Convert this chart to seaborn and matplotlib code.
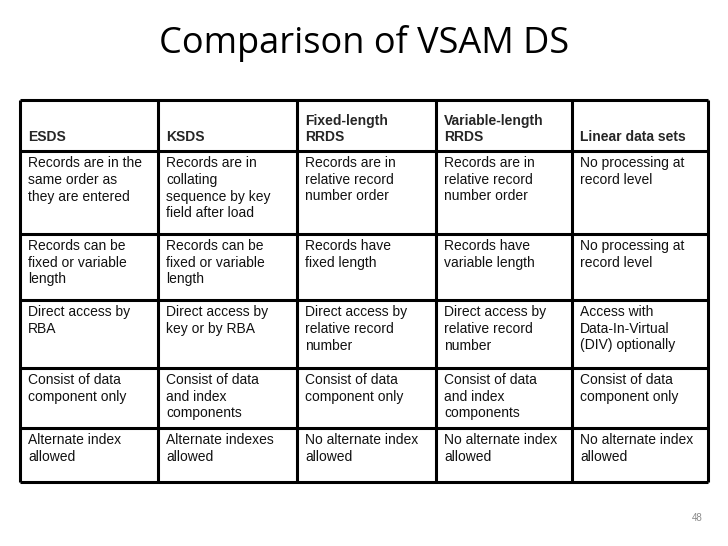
import matplotlib
matplotlib.use("Agg")
import matplotlib.pyplot as plt
import seaborn as sns

# table content
headers = ["ESDS", "KSDS", "Fixed-length\nRRDS", "Variable-length\nRRDS", "Linear data sets"]
row_order = ["Records are in the\nsame order as\nthey are entered",
             "Records are in\ncollating\nsequence by key\nfield after load",
             "Records are in\nrelative record\nnumber order",
             "Records are in\nrelative record\nnumber order",
             "No processing at\nrecord level"]
row_length = ["Records can be\nfixed or variable\nlength",
              "Records can be\nfixed or variable\nlength",
              "Records have\nfixed length",
              "Records have\nvariable length",
              "No processing at\nrecord level"]
row_access = ["Direct access by\nRBA",
              "Direct access by\nkey or by RBA",
              "Direct access by\nrelative record\nnumber",
              "Direct access by\nrelative record\nnumber",
              "Access with\nData-In-Virtual\n(DIV) optionally"]
row_comp = ["Consist of data\ncomponent only",
            "Consist of data\nand index\ncomponents",
            "Consist of data\ncomponent only",
            "Consist of data\nand index\ncomponents",
            "Consist of data\ncomponent only"]
row_aix = ["Alternate index\nallowed",
           "Alternate indexes\nallowed",
           "No alternate index\nallowed",
           "No alternate index\nallowed",
           "No alternate index\nallowed"]
rows = [row_order, row_length, row_access, row_comp, row_aix]

sns.set_theme(style="white")
fig = plt.figure(figsize=(7.28, 5.46), dpi=100)
ax = fig.add_axes([0, 0, 1, 1])
ax.set_xlim(0, 728)
ax.set_ylim(546, 0)
ax.axis("off")

col_x = [20, 158, 297, 436, 572, 708]
row_y = [100, 151, 234, 300, 368, 428, 482]

for x in col_x:
    ax.plot([x, x], [row_y[0], row_y[-1]], color="black", lw=2.2, solid_capstyle="butt")
for y in row_y:
    ax.plot([col_x[0], col_x[-1]], [y, y], color="black", lw=2.2, solid_capstyle="butt")

font = "Liberation Sans"
for j, h in enumerate(headers):
    ax.text(col_x[j] + 8, row_y[1] - 7, h, ha="left", va="bottom", fontsize=10,
            fontweight="bold", family=font, linespacing=1.2)
for i, row in enumerate(rows):
    for j, cell in enumerate(row):
        ax.text(col_x[j] + 8, row_y[i + 1] + 5, cell, ha="left", va="top", fontsize=10,
                family=font, linespacing=1.25, color="#111111")

ax.text(364, 44, "Comparison of VSAM DS", ha="center", va="center", fontsize=26,
        family="Open Sans", color="black")
ax.text(697, 518, "48", ha="center", va="center", fontsize=7, color="#8a8a8a", family=font)

fig.savefig("out.png", dpi=100)
